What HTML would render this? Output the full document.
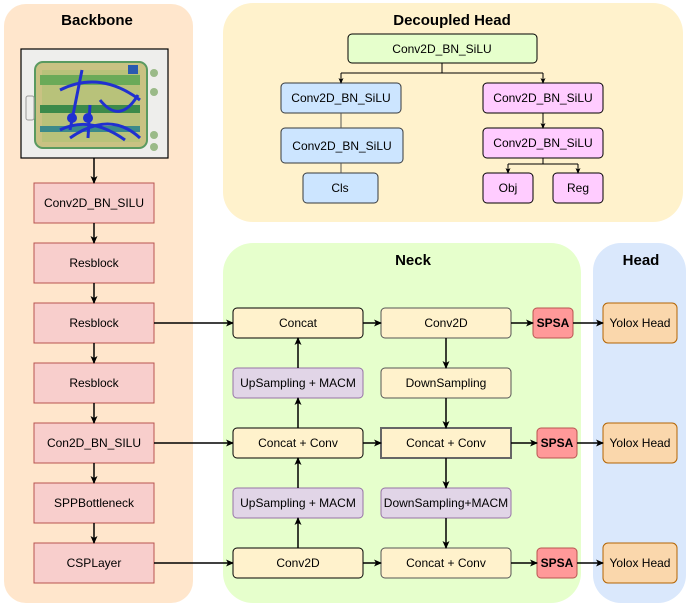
<!DOCTYPE html>
<html><head><meta charset="utf-8"><style>
html,body{margin:0;padding:0;background:#fff;}
svg text{font-family:"Liberation Sans",Arial,sans-serif;}
</style></head><body>
<svg width="690" height="607" viewBox="0 0 690 607" xmlns="http://www.w3.org/2000/svg">
<defs>
<marker id="a" markerWidth="8" markerHeight="8" refX="7" refY="4" orient="auto" markerUnits="userSpaceOnUse"><path d="M0,0.5 L8,4 L0,7.5 L2,4 Z" fill="#000"/></marker>
<marker id="s" markerWidth="6" markerHeight="6" refX="5" refY="3" orient="auto" markerUnits="userSpaceOnUse"><path d="M0,0.5 L6,3 L0,5.5 L1.5,3 Z" fill="#000"/></marker>
</defs>
<rect x="4" y="4" width="189" height="599" rx="22" fill="#ffe6cc"/>
<rect x="223" y="3" width="460" height="219" rx="30" fill="#fff2cc"/>
<rect x="223" y="243" width="358" height="360" rx="30" fill="#e6ffcc"/>
<rect x="593" y="243" width="93" height="360" rx="28" fill="#dae8fc"/>
<g font-weight="bold" font-size="15" text-anchor="middle" fill="#000">
<text x="97" y="25">Backbone</text>
<text x="452" y="25">Decoupled Head</text>
<text x="413" y="265">Neck</text>
<text x="641" y="265">Head</text>
</g>
<!-- xray image -->
<rect x="21" y="49" width="147" height="109" fill="#eeeeec" stroke="#000" stroke-width="1.2"/>
<rect x="35" y="62" width="112" height="86" rx="8" fill="#c9c283" stroke="#5a9a60" stroke-width="2"/>
<rect x="42" y="70" width="98" height="72" fill="#b8c27a"/>
<rect x="40" y="75" width="100" height="10" fill="#6aaa58"/>
<rect x="40" y="105" width="100" height="8" fill="#3c8a4a"/>
<rect x="40" y="126" width="100" height="6" fill="#3c8a8a"/>
<path d="M82,70 L70,130 M90,105 L88,138 M60,90 Q100,70 140,100 M70,138 Q110,110 140,138 M100,100 Q120,125 138,95 M60,130 Q90,115 125,140" stroke="#2030d0" stroke-width="3" fill="none"/>
<circle cx="72" cy="118" r="5" fill="#2030d0"/><circle cx="88" cy="118" r="5" fill="#2030d0"/>
<rect x="128" y="65" width="10" height="9" fill="#2a5ab0"/>
<circle cx="154" cy="73" r="4" fill="#9aba88"/><circle cx="154" cy="92" r="4" fill="#9aba88"/>
<circle cx="154" cy="135" r="4" fill="#9aba88"/><circle cx="154" cy="147" r="4" fill="#9aba88"/>
<rect x="26" y="96" width="8" height="24" rx="2" fill="none" stroke="#999"/>
<g fill="#f8cecc" stroke="#b85450" stroke-width="1">
<rect x="34" y="183" width="120" height="40"/><rect x="34" y="243" width="120" height="40"/>
<rect x="34" y="303" width="120" height="40"/><rect x="34" y="363" width="120" height="40"/>
<rect x="34" y="423" width="120" height="40"/><rect x="34" y="483" width="120" height="40"/>
<rect x="34" y="543" width="120" height="40"/>
</g>
<g font-size="12" text-anchor="middle" fill="#000">
<text x="94" y="207">Conv2D_BN_SILU</text><text x="94" y="267">Resblock</text>
<text x="94" y="327">Resblock</text><text x="94" y="387">Resblock</text>
<text x="94" y="447">Con2D_BN_SILU</text><text x="94" y="507">SPPBottleneck</text>
<text x="94" y="567">CSPLayer</text>
</g>
<g stroke="#000" stroke-width="1.5" marker-end="url(#a)">
<line x1="94" y1="158" x2="94" y2="183"/><line x1="94" y1="223" x2="94" y2="243"/>
<line x1="94" y1="283" x2="94" y2="303"/><line x1="94" y1="343" x2="94" y2="363"/>
<line x1="94" y1="403" x2="94" y2="423"/><line x1="94" y1="463" x2="94" y2="483"/>
<line x1="94" y1="523" x2="94" y2="543"/>
<line x1="154" y1="323" x2="233" y2="323"/><line x1="154" y1="443" x2="233" y2="443"/>
<line x1="154" y1="563" x2="233" y2="563"/>
</g>
<rect x="348" y="34" width="189" height="29" rx="4" fill="#e6ffcc" stroke="#000"/>
<g fill="#cce5ff" stroke="#36393d">
<rect x="281" y="83" width="120" height="30" rx="4"/><rect x="281" y="128" width="122" height="35" rx="4"/>
<rect x="303" y="173" width="75" height="30" rx="4"/>
</g>
<g fill="#ffccff" stroke="#000">
<rect x="483" y="83" width="120" height="30" rx="4"/><rect x="483" y="128" width="120" height="30" rx="4"/>
<rect x="483" y="173" width="50" height="30" rx="4"/><rect x="553" y="173" width="50" height="30" rx="4"/>
</g>
<g font-size="12" text-anchor="middle" fill="#000">
<text x="442" y="53">Conv2D_BN_SiLU</text>
<text x="341" y="102">Conv2D_BN_SiLU</text><text x="342" y="150">Conv2D_BN_SiLU</text>
<text x="340" y="192">Cls</text>
<text x="543" y="102">Conv2D_BN_SiLU</text><text x="543" y="147">Conv2D_BN_SiLU</text>
<text x="508" y="192">Obj</text><text x="578" y="192">Reg</text>
</g>
<g stroke="#000" stroke-width="1" fill="none">
<path d="M442,63 V73 M341,73 H543"/>
<line x1="341" y1="73" x2="341" y2="83" marker-end="url(#s)"/>
<line x1="543" y1="73" x2="543" y2="83" marker-end="url(#s)"/>
<line x1="543" y1="113" x2="543" y2="128" marker-end="url(#s)"/>
<path d="M543,158 V164 M508,164 H578"/>
<line x1="508" y1="164" x2="508" y2="173" marker-end="url(#s)"/>
<line x1="578" y1="164" x2="578" y2="173" marker-end="url(#s)"/>
<line x1="341" y1="113" x2="341" y2="128" stroke="#555"/>
<line x1="341" y1="163" x2="341" y2="173" stroke="#555"/>
</g>
<g fill="#fff2cc" stroke="#000">
<rect x="233" y="308" width="130" height="30" rx="4"/><rect x="233" y="428" width="130" height="30" rx="4"/>
<rect x="233" y="548" width="130" height="30" rx="4"/>
<rect x="381" y="308" width="130" height="30" rx="4" stroke="#555"/><rect x="381" y="368" width="130" height="30" rx="4" stroke="#555"/>
<rect x="381" y="428" width="130" height="30" stroke="#666" stroke-width="2"/>
<rect x="381" y="548" width="130" height="30" rx="4" stroke="#555"/>
</g>
<g fill="#e1d5e7" stroke="#9673a6">
<rect x="233" y="368" width="130" height="30" rx="4"/><rect x="233" y="488" width="130" height="30" rx="4"/>
<rect x="381" y="488" width="130" height="30" rx="4"/>
</g>
<g fill="#ff9999" stroke="#b85450">
<rect x="533" y="308" width="40" height="30" rx="4"/><rect x="537" y="428" width="40" height="30" rx="4"/>
<rect x="537" y="548" width="40" height="30" rx="4"/>
</g>
<g fill="#fad7ac" stroke="#b46504">
<rect x="603" y="303" width="74" height="40" rx="5"/><rect x="603" y="423" width="74" height="40" rx="5"/>
<rect x="603" y="543" width="74" height="40" rx="5"/>
</g>
<g font-size="12" text-anchor="middle" fill="#000">
<text x="298" y="327">Concat</text><text x="298" y="387">UpSampling + MACM</text>
<text x="298" y="447">Concat + Conv</text><text x="298" y="507">UpSampling + MACM</text>
<text x="298" y="567">Conv2D</text>
<text x="446" y="327">Conv2D</text><text x="446" y="387">DownSampling</text>
<text x="446" y="447">Concat + Conv</text><text x="446" y="507">DownSampling+MACM</text>
<text x="446" y="567">Concat + Conv</text>
<text x="640" y="327">Yolox Head</text><text x="640" y="447">Yolox Head</text><text x="640" y="567">Yolox Head</text>
</g>
<g font-size="12" font-weight="bold" text-anchor="middle" fill="#000">
<text x="553" y="327">SPSA</text><text x="557" y="447">SPSA</text><text x="557" y="567">SPSA</text>
</g>
<g stroke="#000" stroke-width="1.5" marker-end="url(#a)">
<line x1="298" y1="368" x2="298" y2="338"/><line x1="298" y1="428" x2="298" y2="398"/>
<line x1="298" y1="488" x2="298" y2="458"/><line x1="298" y1="548" x2="298" y2="518"/>
<line x1="363" y1="323" x2="381" y2="323"/><line x1="363" y1="443" x2="381" y2="443"/>
<line x1="363" y1="563" x2="381" y2="563"/>
<line x1="446" y1="338" x2="446" y2="368"/><line x1="446" y1="398" x2="446" y2="428"/>
<line x1="446" y1="458" x2="446" y2="488"/><line x1="446" y1="518" x2="446" y2="548"/>
<line x1="511" y1="323" x2="533" y2="323"/><line x1="511" y1="443" x2="537" y2="443"/>
<line x1="511" y1="563" x2="537" y2="563"/>
<line x1="573" y1="323" x2="603" y2="323"/><line x1="577" y1="443" x2="603" y2="443"/>
<line x1="577" y1="563" x2="603" y2="563"/>
</g>
</svg>
</body></html>
